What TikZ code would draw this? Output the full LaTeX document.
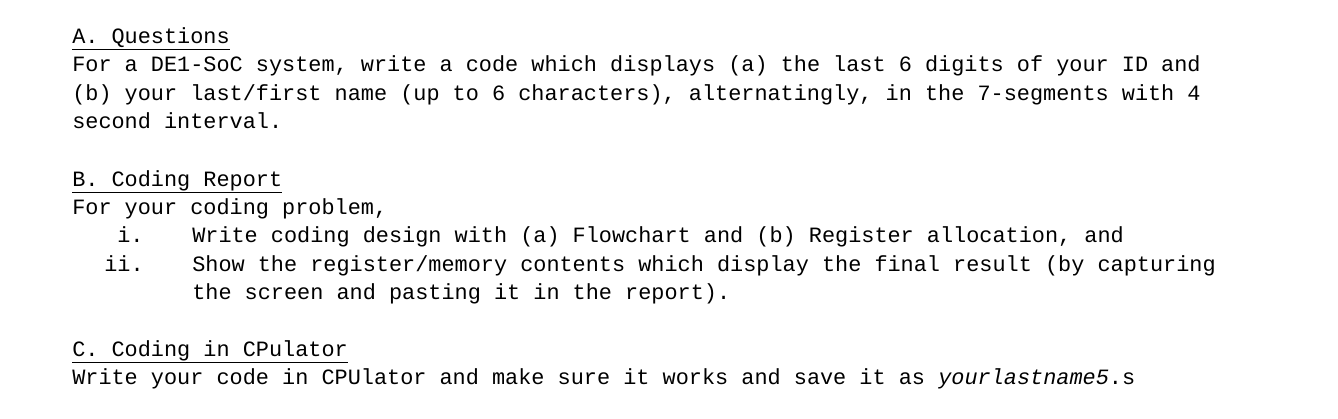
\documentclass[tikz,border=0pt]{standalone}
\usepackage{fontspec}
\setmonofont{Liberation Mono}
\begin{document}
\begin{tikzpicture}[x=0.75pt,y=-0.75pt,
    txt/.style={anchor=base west,inner sep=0pt,font=\ttfamily\fontsize{16.4}{20}\selectfont}]

    \useasboundingbox[fill=white] (0,0) rectangle (1338,418);

    % part A
    \node[txt] (hA) at (72,43) {\underline{A. Questions}};
    \node[txt] (a1) at (72,71) {For a DE1-SoC system, write a code which displays (a) the last 6 digits of your ID and};
    \node[txt] (a2) at (72,100) {(b) your last/first name (up to 6 characters), alternatingly, in the 7-segments with 4};
    \node[txt] (a3) at (72,128) {second interval.};

    % part B
    \node[txt] (hB) at (72,186) {\underline{B. Coding Report}};
    \node[txt] (b1) at (72,214) {For your coding problem,};
    \node[txt] (n1) at (117,242) {i.};
    \node[txt] (b2) at (192,242) {Write coding design with (a) Flowchart and (b) Register allocation, and};
    \node[txt] (n2) at (104,271) {ii.};
    \node[txt] (b3) at (192,271) {Show the register/memory contents which display the final result (by capturing};
    \node[txt] (b4) at (192,299) {the screen and pasting it in the report).};

    % part C
    \node[txt] (hC) at (72,356) {\underline{C. Coding in CPulator}};
    \node[txt] (c1) at (72,384) {Write your code in CPUlator and make sure it works and save it as \textit{yourlastname5}.s};

\end{tikzpicture}
\end{document}
